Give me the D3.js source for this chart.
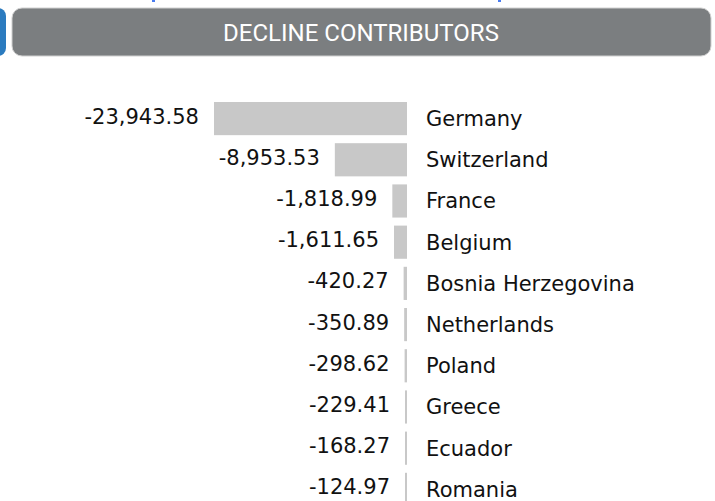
<!DOCTYPE html>
<html>
<head>
<meta charset="utf-8">
<script src="https://cdn.jsdelivr.net/npm/d3@7"></script>
<style>
  html, body { margin: 0; padding: 0; background: #fff; }
  svg { display: block; }
</style>
</head>
<body>
<div id="chart"></div>
<script>
// Countries that contributed most to the decline, and their contributions
const countries = ["Germany", "Switzerland", "France", "Belgium", "Bosnia Herzegovina",
                   "Netherlands", "Poland", "Greece", "Ecuador", "Romania"];
const contributions = [-23943.58, -8953.53, -1818.99, -1611.65, -420.27,
                       -350.89, -298.62, -229.41, -168.27, -124.97];
const title = "DECLINE CONTRIBUTORS";

const W = 715, H = 501;
const svg = d3.select("#chart").append("svg").attr("width", W).attr("height", H);

// Header panel
svg.append("rect").attr("x", -12).attr("y", 8).attr("width", 18).attr("height", 48)
  .attr("rx", 8).attr("fill", "#2b7bbf");
svg.append("rect").attr("x", 12).attr("y", 8).attr("width", 699).attr("height", 48)
  .attr("rx", 10).attr("fill", "#7b7e80").attr("stroke", "#d0d0d0").attr("stroke-width", 1);
svg.append("rect").attr("x", 152).attr("y", 0).attr("width", 3).attr("height", 2).attr("fill", "#4a7cf0");
svg.append("rect").attr("x", 498).attr("y", 0).attr("width", 3).attr("height", 2).attr("fill", "#4a7cf0");
svg.append("text").attr("x", 361).attr("y", 40.5).attr("text-anchor", "middle")
  .attr("font-family", "Roboto, sans-serif").attr("font-size", 24).attr("fill", "#fff")
  .text(title);

const data = countries.map((c, i) => ({ country: c, value: contributions[i] }));

const barRight = 407;
const x = d3.scaleLinear()
  .domain([d3.min(contributions), 0])
  .range([214, barRight]);

const step = 41.2, pad = 0.195;
const y = d3.scaleBand()
  .domain(countries)
  .range([102, 102 + step * (countries.length - pad)])
  .paddingInner(pad)
  .paddingOuter(0);

const locale = d3.formatLocale({ decimal: ".", thousands: ",", grouping: [3], currency: ["", ""], minus: "-" });
const fmt = locale.format(",.2f");

const rows = svg.append("g").selectAll("g").data(data).join("g");

rows.append("rect")
  .attr("x", d => Math.min(x(d.value), barRight - 2))
  .attr("y", d => y(d.country))
  .attr("width", d => Math.max(barRight - x(d.value), 2))
  .attr("height", y.bandwidth())
  .attr("fill", "#c8c8c8");

rows.append("text")
  .attr("x", d => Math.min(x(d.value), barRight - 2) - 15)
  .attr("y", d => y(d.country) + 21.5)
  .attr("text-anchor", "end")
  .attr("font-family", "DejaVu Sans, sans-serif")
  .attr("font-size", 21)
  .attr("fill", "#111")
  .text(d => fmt(d.value));

rows.append("text")
  .attr("x", 426)
  .attr("y", d => y(d.country) + 24)
  .attr("font-family", "DejaVu Sans, sans-serif")
  .attr("font-size", 21)
  .attr("fill", "#111")
  .text(d => d.country);
</script>
</body>
</html>
